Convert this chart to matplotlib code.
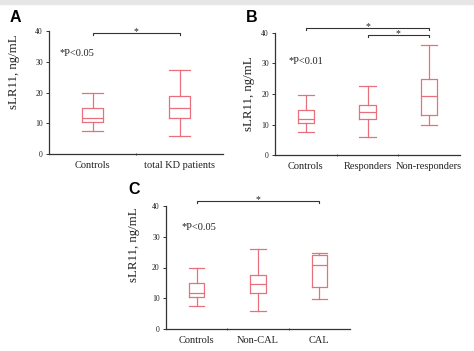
import matplotlib
matplotlib.use("Agg")
import matplotlib.pyplot as plt
from matplotlib.patches import Rectangle

# ---- data ----
cats_a = ["Controls", "total KD patients"]
stats_a = [  # whislo, q1, med, q3, whishi
    [7.5, 10.5, 11.8, 14.8, 19.8],
    [6.0, 11.7, 14.9, 18.9, 27.2],
]
cats_b = ["Controls", "Responders", "Non-responders"]
stats_b = [
    [7.6, 10.5, 11.8, 14.8, 19.8],
    [6.0, 11.8, 14.2, 16.5, 22.7],
    [9.8, 13.1, 19.5, 24.9, 36.0],
]
cats_c = ["Controls", "Non-CAL", "CAL"]
stats_c = [
    [7.5, 10.5, 11.8, 14.8, 19.8],
    [6.0, 11.8, 14.5, 17.6, 26.0],
    [9.8, 13.5, 20.9, 24.2, 24.7],
]
yticks = [0, 10, 20, 30, 40]
ptext = ["*P<0.05", "*P<0.01", "*P<0.05"]

BOX = "#e8707c"
AX = "#333333"
SERIF = ["Liberation Serif", "DejaVu Serif"]

W, H = 474, 351
fig = plt.figure(figsize=(W / 100, H / 100), dpi=100)
fig.patches.append(Rectangle((0, 1 - 4 / H), 1, 4 / H, transform=fig.transFigure,
                             color="#e6e6e6", zorder=0))


def panel(rect, cats, stats, bw, letter, ptxt, ptxt_pos, brackets, letter_pos, ylab_pos):
    ax = fig.add_axes(rect)
    n = len(cats)
    bxp = []
    for s in stats:
        bxp.append(dict(whislo=s[0], q1=s[1], med=s[2], q3=s[3], whishi=s[4], fliers=[]))
    pos = list(range(n))
    ax.bxp(bxp, positions=pos, widths=bw, showfliers=False,
           boxprops=dict(color=BOX, lw=0.9),
           whiskerprops=dict(color=BOX, lw=0.9),
           capprops=dict(color=BOX, lw=0.9),
           medianprops=dict(color=BOX, lw=0.9),
           capwidths=bw)
    ax.set_xlim(-0.5, n - 0.5)
    ax.set_ylim(0, 40)
    ax.set_yticks(yticks)
    ax.set_yticklabels([str(t) for t in yticks], fontsize=5.5, family=SERIF, color="#222")
    ax.set_xticks(pos)
    ax.set_xticklabels(cats, fontsize=7.5, family=SERIF, color="#222")
    ax.set_xticks([i + 0.5 for i in range(n - 1)], minor=True)
    ax.tick_params(axis="x", which="major", length=0, pad=5)
    ax.tick_params(axis="x", which="minor", length=2, direction="inout", color=AX, width=0.6)
    ax.tick_params(axis="y", length=2.5, width=0.7, color=AX, pad=2)
    for sp in ["top", "right"]:
        ax.spines[sp].set_visible(False)
    for sp in ["left", "bottom"]:
        ax.spines[sp].set_color(AX)
        ax.spines[sp].set_linewidth(0.9)
    ax.set_ylabel("sLR11, ng/mL", fontsize=9.3, family=SERIF, color="#222")
    ax.yaxis.set_label_coords(*ylab_pos)
    ax.text(ptxt_pos[0], ptxt_pos[1], ptxt, transform=ax.transData,
            fontsize=7.5, family=SERIF, va="center", ha="left", color="#222")
    for (x0, x1, y) in brackets:
        ax.plot([x0, x0, x1, x1], [y - 0.6, y, y, y - 0.6], color=AX, lw=0.8, clip_on=False)
        ax.text((x0 + x1) / 2, y - 0.3, "*", fontsize=7, family=SERIF, ha="center",
                va="baseline", color="#222")
    fig.text(letter_pos[0] / W, 1 - letter_pos[1] / H, letter, fontsize=11.5,
             fontweight="bold", family=["Liberation Sans", "DejaVu Sans"], va="center", ha="center")
    return ax


panel([49 / W, 1 - 154 / H, 174 / W, 123 / H], cats_a, stats_a, 0.24, "A", ptext[0],
      (-0.38, 32.8), [(0, 1, 39.4)], (15, 17), (-0.167, 0.667))
panel([275 / W, 1 - 155 / H, 185 / W, 122 / H], cats_b, stats_b, 0.26, "B", ptext[1],
      (-0.28, 30.5), [(0, 2, 41.5), (1, 2, 39.2)], (252, 17), (-0.108, 0.504))
panel([166 / W, 1 - 329 / H, 184 / W, 123 / H], cats_c, stats_c, 0.25, "C", ptext[2],
      (-0.25, 33.0), [(0, 2, 41.7)], (134, 190), (-0.141, 0.683))

fig.savefig("out.png", dpi=100, facecolor="white")
